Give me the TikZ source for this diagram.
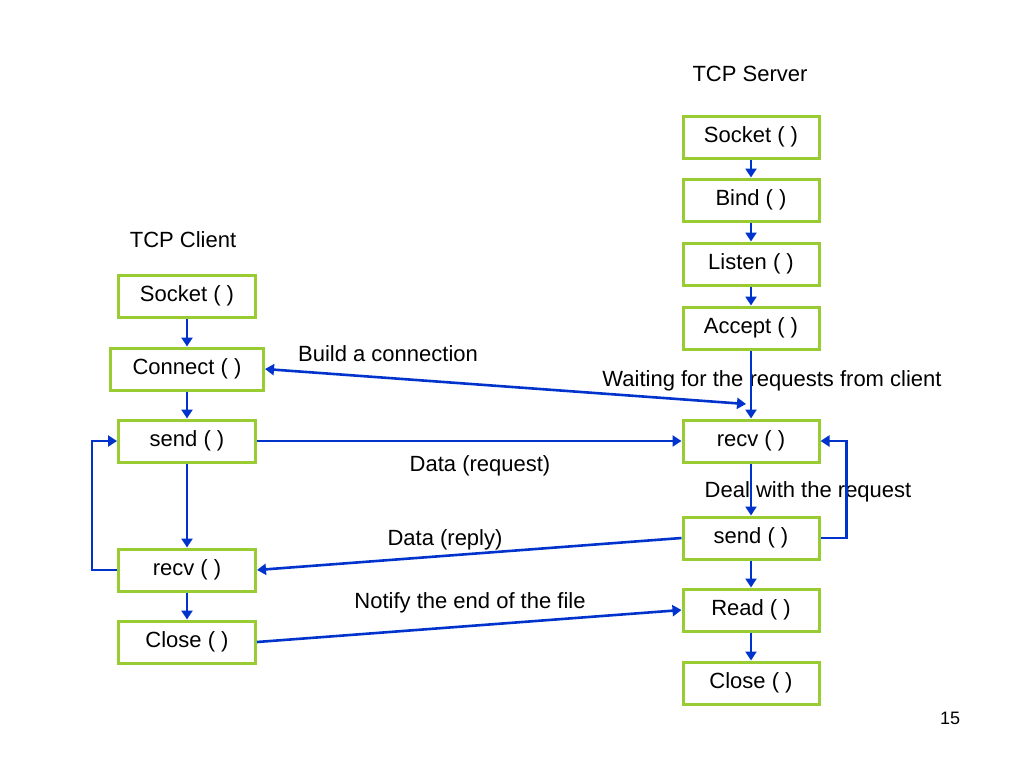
\documentclass[tikz,border=0pt]{standalone}
\usepackage{fontspec}
\setmainfont{Liberation Sans}
\usetikzlibrary{arrows.meta}
\begin{document}
\begin{tikzpicture}[x=1pt,y=-1pt,
  box/.style={draw=boxgreen,line width=3pt,minimum height=42pt,inner sep=0pt,font=\fontsize{22}{24}\selectfont},
  con/.style={draw=arrblue,line width=2.6pt,-{Triangle[length=9pt,width=11pt]}},
  lbl/.style={font=\fontsize{22}{24}\selectfont,inner sep=0pt}]
\definecolor{boxgreen}{HTML}{99CC33}
\definecolor{arrblue}{HTML}{0033CC}
\useasboundingbox (0,0) rectangle (1024,768);
% server
\node[box,minimum width=136pt] (ssock) at (751,137) {Socket ( )};
\node[box,minimum width=136pt] (sbind) at (751,200) {Bind ( )};
\node[box,minimum width=136pt] (slist) at (751,264) {Listen ( )};
\node[box,minimum width=136pt] (sacc) at (751,328) {Accept ( )};
\node[box,minimum width=136pt] (srecv) at (751,441) {recv ( )};
\node[box,minimum width=136pt] (ssend) at (751,538) {send ( )};
\node[box,minimum width=136pt] (sread) at (751,610) {Read ( )};
\node[box,minimum width=136pt] (sclose) at (751,683) {Close ( )};
% client
\node[box,minimum width=137pt] (csock) at (187,296) {Socket ( )};
\node[box,minimum width=153pt] (cconn) at (187,369) {Connect ( )};
\node[box,minimum width=137pt] (csend) at (187,441) {send ( )};
\node[box,minimum width=137pt] (crecv) at (187,570) {recv ( )};
\node[box,minimum width=137pt] (cclose) at (187,642) {Close ( )};
% labels
\node[lbl] (t1) at (750,74) {TCP Server};
\node[lbl] (t2) at (183,240) {TCP Client};
\node[lbl] (l1) at (388,354) {Build a connection};
\node[lbl] (l2) at (772,381) {Waiting for the requests from client};
\node[lbl] (l3) at (480,466) {Data (request)};
\node[lbl] (l4) at (808,492) {Deal with the request};
\node[lbl] (l5) at (445,540) {Data (reply)};
\node[lbl] (l6) at (470,603) {Notify the end of the file};
\node[lbl,font=\fontsize{18}{20}\selectfont] (pg) at (950,718) {15};
% server chain
\foreach \a/\b in {ssock/sbind,sbind/slist,slist/sacc,sacc/srecv,srecv/ssend,ssend/sread,sread/sclose}
  \draw[con] (\a.south) -- (\b.north);
\foreach \a/\b in {csock/cconn,cconn/csend,csend/crecv,crecv/cclose}
  \draw[con] (\a.south) -- (\b.north);
\coordinate (w) at (746,404);
\draw[con,{Triangle[length=9pt,width=11pt]}-{Triangle[length=9pt,width=11pt]}] (cconn.east) -- (w);
\draw[con] (csend.east) -- (srecv.west);
\draw[con] (ssend.west) -- (crecv.east);
\draw[con] (cclose.east) -- (sread.west);
\draw[con] (crecv.west) -- ++(-25,0) |- (csend.west);
\draw[con] (ssend.east) -- ++(26,0) |- (srecv.east);
\end{tikzpicture}
\end{document}
